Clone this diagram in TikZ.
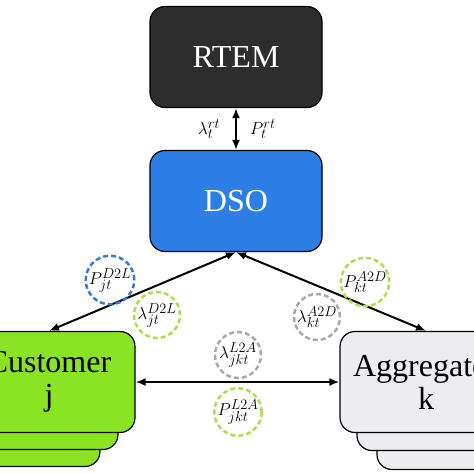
\documentclass[tikz,border=0pt]{standalone}
\usepackage{fontspec}
\setmainfont{Liberation Serif}
\usetikzlibrary{arrows.meta}
\definecolor{rtemgray}{RGB}{45,45,45}
\definecolor{dsoblue}{RGB}{45,127,230}
\definecolor{custgreen}{RGB}{138,228,36}
\definecolor{aggrgray}{RGB}{236,236,241}
\definecolor{tagblue}{RGB}{50,122,212}
\definecolor{taggreen}{RGB}{170,222,80}
\definecolor{taggray}{RGB}{168,168,168}
\tikzset{
  unit/.style={draw=black, line width=1.2pt, rounded corners=15pt, minimum width=172pt,
    minimum height=101pt, inner sep=0pt, align=center, font=\fontsize{32}{33}\selectfont},
  flow/.style={line width=2pt, {Latex[length=10pt,width=8pt]}-{Latex[length=10pt,width=8pt]}},
  tag/.style={circle, dash pattern=on 5pt off 3pt, line width=2.5pt, minimum size=46pt,
    inner sep=0pt, font=\fontsize{19}{19}\selectfont}
}

\begin{document}
\begin{tikzpicture}[x=1pt,y=-1pt]
		%%%%% FRAME %%%%%
		\useasboundingbox (0,0) rectangle (474,474);
		
		%%%%% UNITS %%%%%
		\node[unit, fill=rtemgray, text=white] (rtem) at (236, 57) {RTEM};
		\node[unit, fill=dsoblue, text=white] (dso) at (236, 201) {DSO};
		
		\node[unit, fill=custgreen] (cust3) at (14, 416) {};
		\node[unit, fill=custgreen] (cust2) at (32, 399) {};
		\node[unit, fill=custgreen] (cust) at (49, 382) {Customer\\j};
		
		\node[unit, fill=aggrgray] (aggr3) at (463, 419) {};
		\node[unit, fill=aggrgray] (aggr2) at (443, 400) {};
		\node[unit, fill=aggrgray] (aggr) at (426, 382) {Aggregator\\k};
		
		%%%%% FLOWS %%%%%
		\draw[flow] (rtem.south) -- (dso.north);
		\draw[flow] (dso.south) -- (cust.north);
		\draw[flow] (dso.south) -- (aggr.north);
		\draw[flow] (cust.east) -- (aggr.west);
		
		%%%%% PRICES AND QUANTITIES %%%%%
		\node[font=\fontsize{19}{19}\selectfont] (lamrt) at (209, 129) {$\lambda_t^{rt}$};
		\node[font=\fontsize{19}{19}\selectfont] (prt) at (263, 129) {$P_t^{rt}$};
		
		\node[tag, draw=tagblue] (pdl) at (110, 280) {$P_{jt}^{D2L}$};
		\node[tag, draw=taggreen] (lamdl) at (157, 315) {$\lambda_{jt}^{D2L}$};
		\node[tag, draw=taggreen] (pad) at (365, 282) {$P_{kt}^{A2D}$};
		\node[tag, draw=taggray] (lamad) at (317, 317) {$\lambda_{kt}^{A2D}$};
		\node[tag, draw=taggray] (lamla) at (238, 355) {$\lambda_{jkt}^{L2A}$};
		\node[tag, draw=taggreen] (pla) at (238, 412) {$P_{jkt}^{L2A}$};
	\end{tikzpicture}
\end{document}
